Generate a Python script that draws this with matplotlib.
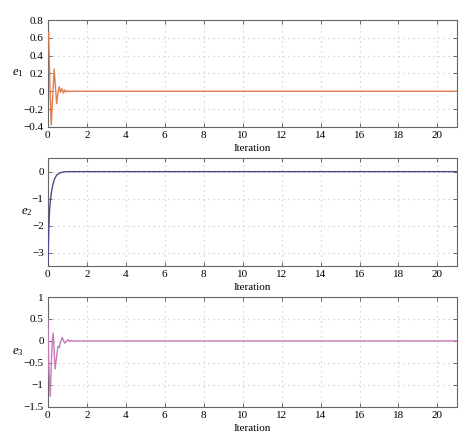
import matplotlib
matplotlib.use("Agg")
import matplotlib.pyplot as plt

# error signals (piecewise, settle to 0 after ~1.5)
t1 = [0, 0.04, 0.10, 0.17, 0.25, 0.32, 0.39, 0.45, 0.52, 0.58, 0.65, 0.72,
      0.79, 0.86, 0.93, 1.0, 1.1, 1.2, 1.4, 21]
e1 = [0.60, 0.66, 0.10, -0.38, -0.05, 0.25, 0.05, -0.14, -0.02, 0.05, -0.01,
      0.03, -0.02, 0.015, -0.01, 0.005, -0.003, 0.001, 0, 0]

t2 = [0, 0.02, 0.05, 0.09, 0.14, 0.20, 0.27, 0.35, 0.45, 0.60, 0.80, 1.0, 21]
e2 = [-3.5, -3.0, -2.0, -1.4, -1.0, -0.68, -0.44, -0.26, -0.13, -0.05, -0.01, 0, 0]

t3 = [0, 0.05, 0.12, 0.18, 0.22, 0.27, 0.32, 0.37, 0.45, 0.52, 0.58, 0.64,
      0.73, 0.80, 0.87, 0.95, 1.04, 1.12, 1.2, 1.3, 1.45, 21]
e3 = [0.5, -0.6, -1.26, -0.5, -0.05, 0.18, -0.2, -0.64, -0.35, -0.12, -0.15,
      -0.05, 0.08, 0.01, -0.05, -0.01, 0.03, -0.01, 0.01, -0.005, 0, 0]

series = [
    (t1, e1, "#e07d4e", r"$e_1$", (-0.4, 0.8), [-0.4, -0.2, 0, 0.2, 0.4, 0.6, 0.8],
     ["−0.4", "−0.2", "0", "0.2", "0.4", "0.6", "0.8"]),
    (t2, e2, "#4a4a8c", r"$e_2$", (-3.5, 0.5), [-3, -2, -1, 0],
     ["−3", "−2", "−1", "0"]),
    (t3, e3, "#c67ab8", r"$e_3$", (-1.5, 1.0), [-1.5, -1, -0.5, 0, 0.5, 1],
     ["−1.5", "−1", "−0.5", "0", "0.5", "1"]),
]

xticks = list(range(0, 21, 2))

plt.rcParams["font.family"] = ["Liberation Serif", "DejaVu Serif"]
plt.rcParams["mathtext.fontset"] = "custom"
plt.rcParams["mathtext.rm"] = "Liberation Serif"
plt.rcParams["mathtext.it"] = "Liberation Serif:italic"

fig = plt.figure(figsize=(4.74, 4.48), dpi=100)
boxes = [
    [0.101, 0.717, 0.863, 0.238],
    [0.101, 0.406, 0.863, 0.241],
    [0.101, 0.092, 0.863, 0.245],
]

for box, (t, e, color, ylab, ylim, yt, ytl) in zip(boxes, series):
    ax = fig.add_axes(box)
    ax.plot(t, e, color=color, linewidth=1.0, zorder=3)
    ax.set_xlim(0, 21)
    ax.set_ylim(*ylim)
    ax.set_xticks(xticks)
    ax.set_yticks(yt)
    ax.set_yticklabels(ytl)
    ax.grid(True, linestyle=(0, (1, 3.5)), color="#c4c4c4", linewidth=0.8)
    ax.tick_params(direction="in", top=True, right=True, labelsize=8,
                   length=3, width=0.6, color="#555555", pad=3)
    for sp in ax.spines.values():
        sp.set_color("#666666")
        sp.set_linewidth(0.8)
    ax.set_xlabel("Iteration", fontsize=8, labelpad=3)
    ax.set_ylabel(ylab, fontsize=9, rotation=0, labelpad=4, va="center")

fig.savefig("out.png", dpi=100)
